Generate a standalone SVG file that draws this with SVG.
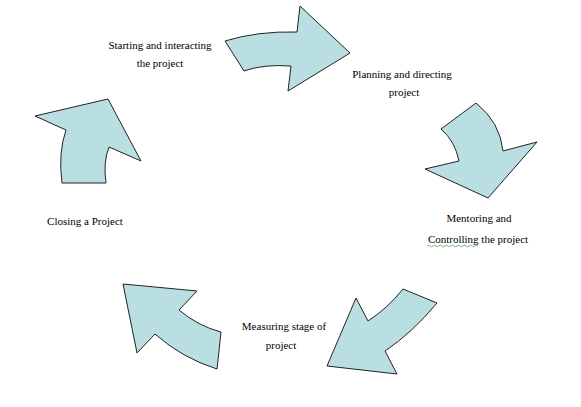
<svg xmlns="http://www.w3.org/2000/svg" width="581" height="407" viewBox="0 0 581 407">
<style>
.arr{fill:#BADFE3;stroke:#222;stroke-width:1;stroke-linejoin:miter}
text{font-family:"Liberation Serif","Times New Roman",serif;font-size:11px;fill:#000;text-anchor:middle}
</style>
<rect width="581" height="407" fill="#fff"/>
<g id="connectors">
<path id="arrow-top" class="arr" d="M225,41 Q257,31 297,32 L300,6 L350,53 L288,91 L291,66 Q263,64 244,71 Z"/>
<path id="arrow-right" class="arr" d="M476,103 Q500,122 503,151 L537,142 L488,198 L425,169 L459,161 Q455,141 441,129 Z"/>
<path id="arrow-bottom-right" class="arr" d="M403,289 L437,303 Q412,333 385,351 L397,374 L327,366 L356,298 L368,321 Q388,308 403,289 Z"/>
<path id="arrow-bottom-left" class="arr" d="M123,284 L197,291 L179,310 Q198,326 221,332 L217,369 Q182,358 155,334 L137,353 Z"/>
<path id="arrow-left" class="arr" d="M35,116 L108,99 L141,161 L109,147 Q103,162 106,183 L62,183 Q58,153 66,130 Z"/>
</g>
<g id="node-start"><text x="160" y="49">Starting and interacting</text><text x="160" y="67">the project</text></g>
<g id="node-plan"><text x="402" y="78">Planning and directing</text><text x="404" y="96">project</text></g>
<g id="node-mentor"><text x="479" y="222">Mentoring and</text><text x="478" y="243">Controlling the project</text>
<path d="M427,246 q1.5,-1.5 3,0 t3,0 t3,0 t3,0 t3,0 t3,0 t3,0 t3,0 t3,0 t3,0 t3,0 t3,0 t3,0 t3,0 t3,0 t3,0 t3,0" fill="none" stroke="#3a9a3a" stroke-width="0.7"/></g>
<g id="node-measure"><text x="284" y="330">Measuring stage of</text><text x="281" y="349">project</text></g>
<g id="node-close"><text x="85" y="225">Closing a Project</text></g>
</svg>
